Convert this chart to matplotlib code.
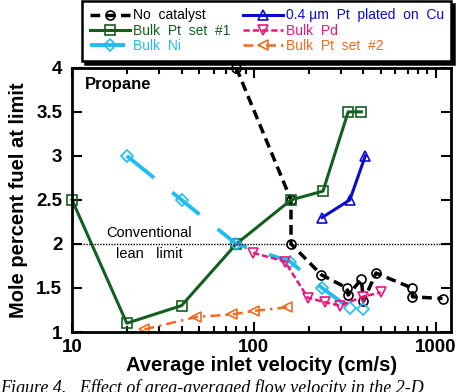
import matplotlib
matplotlib.use('Agg')
import matplotlib.pyplot as plt
from matplotlib.ticker import LogLocator, NullFormatter, FixedLocator, FixedFormatter

plt.rcParams['font.family'] = ['Liberation Sans', 'DejaVu Sans']

#### data
no_cat_x = [80, 160, 160, 235, 325, 330, 390, 400, 470, 740, 745, 1090]
no_cat_y = [4.0, 2.5, 2.0, 1.65, 1.5, 1.42, 1.6, 1.35, 1.67, 1.5, 1.4, 1.38]

pt1_x = [10, 20, 40, 80, 160, 240, 330, 390]
pt1_y = [2.5, 1.1, 1.3, 2.0, 2.5, 2.6, 3.5, 3.5]

ni_x = [20, 40, 80, 158, 237, 337, 397]
ni_y = [3.0, 2.5, 2.0, 1.8, 1.5, 1.27, 1.26]

cu_x = [237, 337, 410]
cu_y = [2.3, 2.5, 3.0]

pd_x = [99, 148, 198, 245, 297, 397, 499]
pd_y = [1.9, 1.8, 1.39, 1.34, 1.3, 1.4, 1.45]

pt2_x = [25, 48, 76, 100, 152]
pt2_y = [1.03, 1.17, 1.2, 1.24, 1.28]

lean_limit = 2.0

fig = plt.figure(figsize=(4.74, 3.92), dpi=100)
ax = fig.add_axes([0.152, 0.153, 0.799, 0.674])

green = '#12601f'
cyan = '#20bdf0'
blue = '#0a0ad0'
pink = '#f0147a'
orange = '#f06a20'

mk = dict(markersize=6.5, markerfacecolor='none', markeredgewidth=1.2)

l1, = ax.plot(no_cat_x, no_cat_y, color='black', ls=(0, (2.8, 1.6)), lw=2.5,
              marker='o', markeredgecolor='black', clip_on=False, **mk)
l2, = ax.plot(pt1_x, pt1_y, color=green, ls='-', lw=2.2,
              marker='s', markeredgecolor=green, clip_on=False, **mk)
l3, = ax.plot(ni_x, ni_y, color=cyan, ls=(0, (9, 6)), lw=2.8,
              marker='D', markeredgecolor=cyan, clip_on=False, **mk)
l4, = ax.plot(cu_x, cu_y, color=blue, ls='-', lw=2.2,
              marker='^', markeredgecolor=blue, clip_on=False, **mk)
l5, = ax.plot(pd_x, pd_y, color=pink, ls=(0, (2.5, 1.2)), lw=1.8,
              marker='v', markeredgecolor=pink, clip_on=False, **mk)
l6, = ax.plot(pt2_x, pt2_y, color=orange, ls=(0, (4, 2, 1, 2)), lw=1.8,
              marker='<', markeredgecolor=orange, clip_on=False, **mk)

ax.axhline(lean_limit, color='black', ls=(0, (1, 1)), lw=1.0)
ax.text(26.5, 2.04, 'Conventional', ha='center', va='bottom', fontsize=10.5)
ax.text(26.5, 1.97, 'lean   limit', ha='center', va='top', fontsize=10.5)
ax.text(0.035, 0.935, 'Propane', transform=ax.transAxes, fontsize=12,
        fontweight='bold', va='center')

ax.set_xscale('log')
ax.set_xlim(10, 1210)
ax.set_ylim(1, 4)
ax.xaxis.set_major_locator(FixedLocator([10, 100, 1000]))
ax.xaxis.set_major_formatter(FixedFormatter(['10', '100', '1000']))
ax.xaxis.set_minor_locator(LogLocator(subs=range(2, 10)))
ax.xaxis.set_minor_formatter(NullFormatter())
ax.set_yticks([1, 1.5, 2, 2.5, 3, 3.5, 4])
ax.set_yticklabels(['1', '1.5', '2', '2.5', '3', '3.5', '4'])

ax.tick_params(which='both', direction='in', top=True, right=True, width=1.5)
ax.tick_params(which='major', length=7, labelsize=13.5)
ax.tick_params(axis='x', which='major', pad=5)
ax.tick_params(axis='y', which='major', pad=7)
ax.tick_params(which='minor', length=4)
for lab in ax.get_xticklabels() + ax.get_yticklabels():
    lab.set_fontweight('bold')
for s in ax.spines.values():
    s.set_linewidth(2)

ax.set_xlabel('Average inlet velocity (cm/s)', fontsize=14.5, fontweight='bold', labelpad=0)
ax.set_ylabel('Mole percent fuel at limit', fontsize=14.5, fontweight='bold', labelpad=6)

labels = ['No  catalyst', 'Bulk  Pt  set  #1', 'Bulk  Ni',
          '0.4 µm  Pt  plated  on  Cu', 'Bulk  Pd', 'Bulk  Pt  set  #2']
leg = fig.legend([l1, l2, l3, l4, l5, l6], labels, ncol=2,
                 loc='upper left', bbox_to_anchor=(0.173, 0.998), borderaxespad=0,
                 fontsize=10, handlelength=2.9, handletextpad=0.2,
                 columnspacing=0.9, labelspacing=0.1, borderpad=0.55,
                 fancybox=False, shadow={'color': 'black', 'alpha': 1},
                 edgecolor='black', framealpha=1)
leg.get_frame().set_linewidth(1.8)
for txt, ln in zip(leg.get_texts(), [l1, l2, l3, l4, l5, l6]):
    txt.set_color(ln.get_color())

# caption line, cut off at the bottom edge as in the source image
fig.text(0.0, -0.012, 'Figure 4.   Effect of area-averaged flow velocity in the 2-D',
         fontsize=13, family='Liberation Serif', style='italic', va='bottom')

fig.savefig('out.png', dpi=100)
